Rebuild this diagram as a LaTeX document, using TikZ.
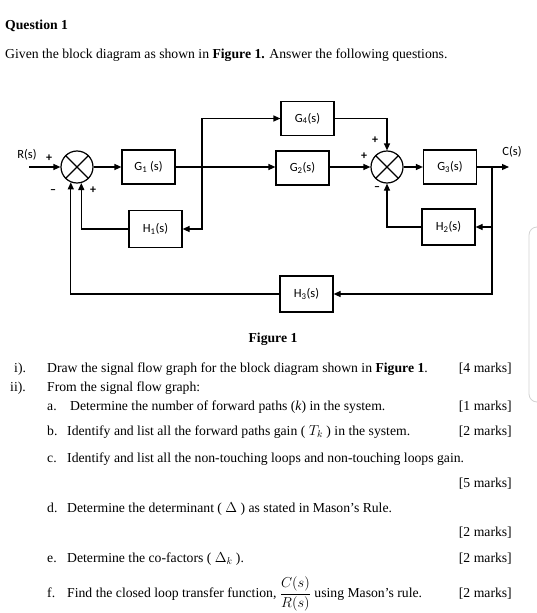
\documentclass[tikz,border=0pt]{standalone}
\usepackage{fontspec}
\setmainfont{Liberation Serif}
\newfontfamily\lblfont{Carlito}
\usetikzlibrary{arrows.meta}
\begin{document}
\begin{tikzpicture}[x=1pt,y=-1pt,
  blk/.style={draw,line width=1.2pt,minimum width=53pt,minimum height=34pt,inner sep=0pt,font=\lblfont\fontsize{12.5}{14}\selectfont},
  sumj/.style={draw,circle,line width=1.2pt,minimum size=32pt,inner sep=0pt},
  wire/.style={line width=1.2pt},
  arr/.style={wire,-{Triangle[length=7pt,width=6pt]}},
  lbl/.style={inner sep=0pt,font=\lblfont\fontsize{12.5}{14}\selectfont},
  sgn/.style={inner sep=0pt,font=\lblfont\fontsize{12}{12}\selectfont\bfseries},
  txt/.style={anchor=base west,inner sep=0pt,font=\fontsize{13.7}{16}\selectfont},
  mrk/.style={anchor=base east,inner sep=0pt,font=\fontsize{13.7}{16}\selectfont},
]
\useasboundingbox (0,0) rectangle (536,613);

% ---------- block diagram ----------
\node[sumj] (s1) at (77,167) {};
\draw[wire] (s1.north east) -- (s1.south west) (s1.north west) -- (s1.south east);
\node[sumj] (s2) at (387,167) {};
\draw[wire] (s2.north east) -- (s2.south west) (s2.north west) -- (s2.south east);

\node[blk] (g1) at (148.5,167) {G\textsubscript{1} (s)};
\node[blk] (g4) at (307.5,118.5) {G\textsubscript{4}(s)};
\node[blk] (g2) at (302.5,168) {G\textsubscript{2}(s)};
\node[blk] (g3) at (450,167) {G\textsubscript{3}(s)};
\node[blk,minimum height=37pt] (h1) at (155.5,229) {H\textsubscript{1}(s)};
\node[blk,minimum height=36pt] (h2) at (448.5,227) {H\textsubscript{2}(s)};
\node[blk,minimum height=36pt] (h3) at (306.5,294) {H\textsubscript{3}(s)};

\coordinate (in) at (29,167);
\coordinate (out) at (509,167);
\coordinate (b1) at (202,167);
\coordinate (b2) at (492,167);

\node[lbl] (rs) at (27,155) {R(s)};
\node[lbl] (cs) at (512,152) {C(s)};

\draw[arr] (in) -- (s1.west);
\draw[arr] (s1.east) -- (g1.west);
\draw[arr] (g1.east) -- (g2.west |- g1.east);
\draw[arr] (b1) |- (g4.west);
\draw[arr] (b1) |- (h1.east);
\draw[arr] (h1.west) -| (s1.-75);
\draw[arr] (h3.west) -| (s1.-112);
\draw[arr] (g4.east) -| (s2.north);
\draw[arr] (g2.east |- s2.west) -- (s2.west);
\draw[arr] (s2.east) -- (g3.west);
\draw[arr] (g3.east) -- (out);
\draw[arr] (b2) |- (h2.east);
\draw[arr] (h2.west) -| (s2.south);
\draw[arr] (b2) |- (h3.east);

\node[sgn] (p1) at (49,158) {+};
\node[sgn] (m1) at (53,192) {\textendash};
\node[sgn] (p2) at (93,190) {+};
\node[sgn] (p3) at (375,140) {+};
\node[sgn] (p4) at (364,156) {+};
\node[sgn] (m2) at (377,189) {\textendash};

% ---------- screen artefact ----------
\draw[gray!35,line width=0.8pt,rounded corners=8pt] (548,227) -- (529,227) -- (529,402) -- (548,402);

% ---------- text ----------
\node[txt] (q) at (5,29) {\bfseries Question 1};
\node[txt] (given) at (5,58) {Given the block diagram as shown in \textbf{Figure 1.} Answer the following questions.};
\node[txt,anchor=base] (fig) at (273,342) {\bfseries Figure 1};

\node[txt] (ni) at (14,372.5) {i).};
\node[txt] (ti) at (47,372.5) {Draw the signal flow graph for the block diagram shown in \textbf{Figure 1}.};
\node[mrk] (mi) at (512,372.5) {[4 marks]};
\node[txt] (nii) at (10,391.5) {ii).};
\node[txt] (tii) at (47,391.5) {From the signal flow graph:};

\node[txt] (na) at (47,410.5) {a.};
\node[txt] (ta) at (70,410.5) {Determine the number of forward paths (\textit{k}) in the system.};
\node[mrk] (ma) at (512,410.5) {[1 marks]};

\node[txt] (nb) at (47,435) {b.};
\node[txt] (tb) at (67,435) {Identify and list all the forward paths gain ( $T_k$ ) in the system.};
\node[mrk] (mb) at (512,435) {[2 marks]};

\node[txt] (nc) at (47,462.5) {c.};
\node[txt] (tc) at (67,462.5) {Identify and list all the non-touching loops and non-touching loops gain.};
\node[mrk] (mc) at (512,487.5) {[5 marks]};

\node[txt] (nd) at (47,512.5) {d.};
\node[txt] (td) at (67,512.5) {Determine the determinant ( $\Delta$ ) as stated in Mason’s Rule.};
\node[mrk] (md) at (512,536) {[2 marks]};

\node[txt] (ne) at (47,562.5) {e.};
\node[txt] (te) at (67,562.5) {Determine the co-factors ( $\Delta_k$ ).};
\node[mrk] (me) at (512,562.5) {[2 marks]};

\node[txt] (nf) at (47,597.5) {f.};
\node[txt] (tf) at (67,597.5) {Find the closed loop transfer function, $\displaystyle\frac{C(s)}{R(s)}$ using Mason’s rule.};
\node[mrk] (mf) at (512,597.5) {[2 marks]};
\end{tikzpicture}
\end{document}
